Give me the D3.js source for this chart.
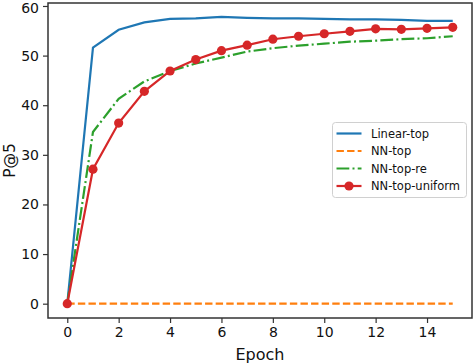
<!DOCTYPE html>
<html>
<head>
<meta charset="utf-8">
<script src="https://cdn.jsdelivr.net/npm/d3@7"></script>
<style>
  html, body { margin: 0; padding: 0; background: #fff; }
  svg { display: block; font-family: "DejaVu Sans", sans-serif; }
</style>
</head>
<body>
<svg id="chart" width="474" height="363"></svg>
<script>
const epochs = [0,1,2,3,4,5,6,7,8,9,10,11,12,13,14,15];
const linearTop = [0, 51.6, 55.2, 56.7, 57.4, 57.5, 57.8, 57.6, 57.5, 57.5, 57.4, 57.3, 57.3, 57.2, 57.0, 57.0];
const nnTop = [0,0,0,0,0,0,0,0,0,0,0,0,0,0,0,0];
const nnTopRe = [0, 34.6, 41.3, 44.8, 46.9, 48.4, 49.6, 50.8, 51.5, 52.0, 52.4, 52.8, 53.0, 53.3, 53.5, 53.9];
const nnTopUniform = [0, 27.1, 36.4, 42.8, 46.9, 49.2, 51.0, 52.1, 53.3, 53.9, 54.4, 54.9, 55.4, 55.3, 55.5, 55.7];
const seriesNames = ["Linear-top", "NN-top", "NN-top-re", "NN-top-uniform"];
const xTicks = [0,2,4,6,8,10,12,14];
const yTicks = [0,10,20,30,40,50,60];

const svg = d3.select("#chart");
const m = {left: 48, top: 3, right: 472, bottom: 318};

const x = d3.scaleLinear().domain([-0.75, 15.75]).range([m.left, m.right]);
const y = d3.scaleLinear().domain([-2.885, 60.6]).range([m.bottom, m.top]);

const series = [
  {name: seriesNames[0], values: linearTop, color: "#1f77b4", dash: null, marker: false},
  {name: seriesNames[1], values: nnTop, color: "#ff7f0e", dash: "7.4,3.2", marker: false},
  {name: seriesNames[2], values: nnTopRe, color: "#2ca02c", dash: "12.8,3.2,2,3.2", marker: false},
  {name: seriesNames[3], values: nnTopUniform, color: "#d62728", dash: null, marker: true}
];

const line = d3.line().x((d, i) => x(epochs[i])).y(d => y(d));

const plot = svg.append("g");
series.forEach(s => {
  plot.append("path")
    .datum(s.values)
    .attr("fill", "none")
    .attr("stroke", s.color)
    .attr("stroke-width", 2.2)
    .attr("stroke-dasharray", s.dash)
    .attr("d", line);
  if (s.marker) {
    plot.selectAll(null).data(s.values).enter().append("circle")
      .attr("cx", (d, i) => x(epochs[i]))
      .attr("cy", d => y(d))
      .attr("r", 4.6)
      .attr("fill", s.color);
  }
});

// axes
const axisColor = "#333";
const xAxis = svg.append("g").attr("transform", `translate(0,${m.bottom})`)
  .call(d3.axisBottom(x).tickValues(xTicks).tickSize(5).tickPadding(4).tickFormat(d3.format("d")));
const yAxis = svg.append("g").attr("transform", `translate(${m.left},0)`)
  .call(d3.axisLeft(y).tickValues(yTicks).tickSize(5).tickPadding(4).tickFormat(d3.format("d")));
[xAxis, yAxis].forEach(a => {
  a.select(".domain").remove();
  a.selectAll("line").attr("stroke", axisColor).attr("stroke-width", 1.2);
  a.selectAll("text").attr("font-size", 14).attr("fill", "#111")
    .attr("font-family", "DejaVu Sans, sans-serif");
});
// keep the top tick label inside the picture
yAxis.selectAll(".tick text").filter(d => d === 60).attr("dy", "0.45em");

// frame
svg.append("rect")
  .attr("x", m.left).attr("y", m.top)
  .attr("width", m.right - m.left).attr("height", m.bottom - m.top)
  .attr("fill", "none").attr("stroke", axisColor).attr("stroke-width", 1.5);

// labels
svg.append("text").attr("x", (m.left + m.right) / 2).attr("y", 360)
  .attr("text-anchor", "middle").attr("font-size", 16).attr("fill", "#111").text("Epoch");
svg.append("text").attr("transform", `translate(15,${(m.top + m.bottom) / 2}) rotate(-90)`)
  .attr("text-anchor", "middle").attr("font-size", 15.5).attr("fill", "#111").text("P@5");

// legend
const lg = svg.append("g").attr("transform", "translate(332.5,122.5)");
lg.append("rect").attr("width", 134).attr("height", 75).attr("rx", 3)
  .attr("fill", "#fff").attr("fill-opacity", 0.85).attr("stroke", "#d0d0d0").attr("stroke-width", 1);
series.forEach((s, i) => {
  const yy = 11 + i * 17.5;
  lg.append("line").attr("x1", 4).attr("x2", 29).attr("y1", yy).attr("y2", yy)
    .attr("stroke", s.color).attr("stroke-width", 2.2).attr("stroke-dasharray", s.dash);
  if (s.marker) lg.append("circle").attr("cx", 16.5).attr("cy", yy).attr("r", 4.6).attr("fill", s.color);
  lg.append("text").attr("x", 38.5).attr("y", yy).attr("dy", "0.35em")
    .attr("font-size", 11.5).attr("fill", "#111").text(s.name);
});
</script>
</body>
</html>
